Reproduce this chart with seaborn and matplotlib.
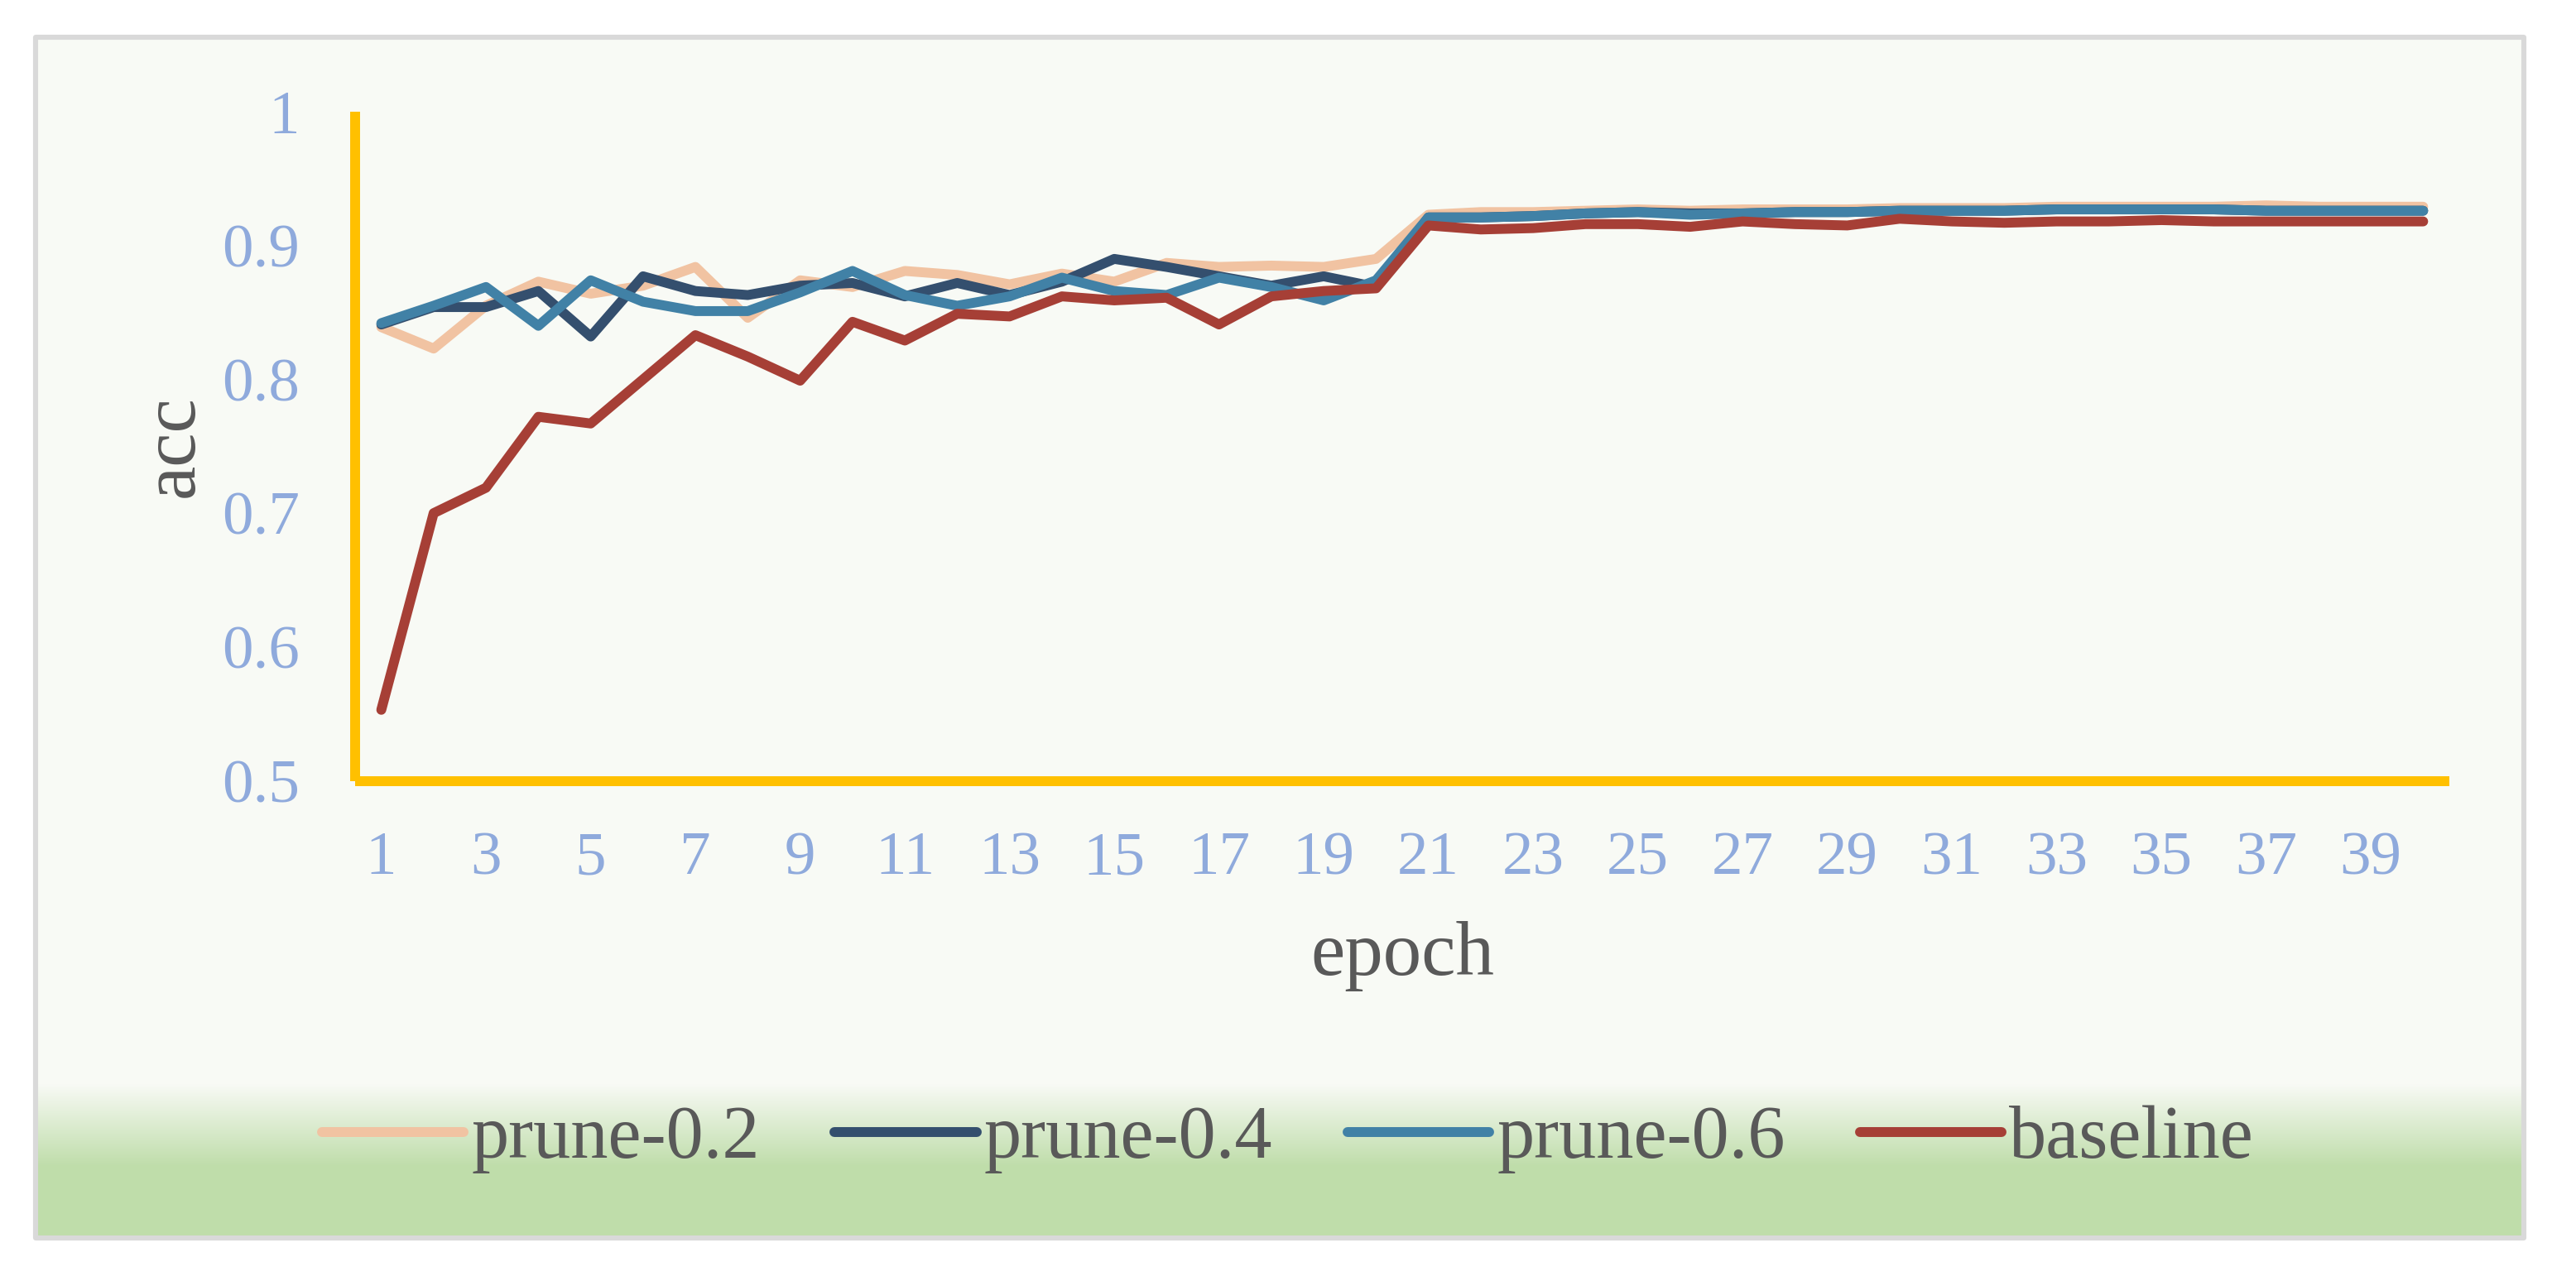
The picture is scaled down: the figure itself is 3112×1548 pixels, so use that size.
import matplotlib
matplotlib.use('Agg')
import matplotlib.pyplot as plt
import numpy as np
import pandas as pd
import seaborn as sns
from matplotlib.patches import Rectangle

# accuracy per epoch
epochs = list(range(1, 41))
prune_02 = [0.839, 0.823, 0.855, 0.873, 0.864, 0.870, 0.884, 0.846, 0.874, 0.869,
            0.881, 0.878, 0.871, 0.879, 0.873, 0.887, 0.884, 0.885, 0.884, 0.890,
            0.923, 0.925, 0.925, 0.926, 0.927, 0.926, 0.927, 0.927, 0.927, 0.928,
            0.928, 0.928, 0.929, 0.929, 0.929, 0.929, 0.930, 0.929, 0.929, 0.929]
prune_04 = [0.841, 0.854, 0.854, 0.866, 0.832, 0.877, 0.866, 0.863, 0.870, 0.872,
            0.862, 0.872, 0.863, 0.873, 0.890, 0.884, 0.877, 0.870, 0.877, 0.869,
            0.921, 0.921, 0.922, 0.924, 0.925, 0.924, 0.924, 0.925, 0.925, 0.926,
            0.926, 0.926, 0.927, 0.927, 0.927, 0.927, 0.926, 0.926, 0.926, 0.926]
prune_06 = [0.842, 0.855, 0.869, 0.840, 0.874, 0.858, 0.851, 0.851, 0.865, 0.881,
            0.863, 0.855, 0.862, 0.876, 0.866, 0.863, 0.876, 0.869, 0.859, 0.874,
            0.921, 0.921, 0.922, 0.924, 0.925, 0.923, 0.924, 0.925, 0.925, 0.926,
            0.926, 0.926, 0.927, 0.927, 0.927, 0.927, 0.926, 0.926, 0.926, 0.926]
baseline = [0.553, 0.700, 0.719, 0.772, 0.767, 0.800, 0.833, 0.817, 0.799, 0.843,
            0.829, 0.849, 0.847, 0.862, 0.859, 0.861, 0.841, 0.862, 0.866, 0.868,
            0.915, 0.912, 0.913, 0.916, 0.916, 0.914, 0.918, 0.916, 0.915, 0.920,
            0.918, 0.917, 0.918, 0.918, 0.919, 0.918, 0.918, 0.918, 0.918, 0.918]

names = ['prune-0.2', 'prune-0.4', 'prune-0.6', 'baseline']
colors = ['#F1C3A2', '#344F6E', '#4181A6', '#A63F36']
y_ticks = [0.5, 0.6, 0.7, 0.8, 0.9, 1.0]
y_tick_labels = ['0.5', '0.6', '0.7', '0.8', '0.9', '1']

df = pd.DataFrame({
    'epoch': epochs * 4,
    'acc': prune_02 + prune_04 + prune_06 + baseline,
    'model': [n for n in names for _ in epochs],
})

sns.set_theme(style='white')
plt.rcParams['font.family'] = ['Liberation Serif', 'DejaVu Serif']

W, H = 3112, 1548
fig = plt.figure(figsize=(W / 200, H / 200), dpi=200, facecolor='white')

# chart area background: pale fill, green gradient at the bottom, grey frame
bg = fig.add_axes([0, 0, 1, 1], zorder=-5)
bg.axis('off')
top_col = np.array(matplotlib.colors.to_rgb('#F8FAF5'))
green = np.array(matplotlib.colors.to_rgb('#BFDDAA'))
bg.add_patch(Rectangle((46, 48), 3000, 1310 - 48, facecolor='#F8FAF5', edgecolor='none'))
t = np.linspace(0, 1, 200)[:, None, None]
grad = top_col * (1 - t) + green * t
bg.imshow(grad, extent=[46, 3046, 1410, 1310], aspect='auto', interpolation='bilinear')
bg.add_patch(Rectangle((46, 1409), 3000, 1493 - 1409, facecolor='#BFDDAA', edgecolor='none'))
bg.add_patch(Rectangle((43, 45), 3006, 1451, facecolor='none', edgecolor='#D9D9D9',
                       linewidth=2.2, joinstyle='round'))
bg.set_xlim(0, W)
bg.set_ylim(H, 0)

ax = fig.add_axes([429 / W, 1 - 943.5 / H, 2530 / W, 808.5 / H])
ax.set_facecolor('none')

sns.lineplot(data=df, x='epoch', y='acc', hue='model', palette=colors,
             linewidth=4.3, ax=ax, legend=False, sort=False)
for line in ax.get_lines():
    line.set_solid_capstyle('round')
    line.set_solid_joinstyle('round')

ax.set_xlim(0.5, 40.5)
ax.set_ylim(0.5, 1.0)
ax.set_xticks(epochs[::2])
ax.set_yticks(y_ticks)
ax.set_yticklabels(y_tick_labels)
ax.tick_params(axis='both', length=0, labelsize=27, labelcolor='#8FAADC')
ax.tick_params(axis='x', pad=22)
ax.tick_params(axis='y', pad=24)

for side in ['top', 'right']:
    ax.spines[side].set_visible(False)
for side in ['left', 'bottom']:
    ax.spines[side].set_color('#FFC000')
    ax.spines[side].set_linewidth(4.3)
    ax.spines[side].set_capstyle('butt')

ax.set_xlabel('epoch', fontsize=33.5, color='#595959', va='baseline')
ax.xaxis.set_label_coords(0.5, -0.290)
ax.set_ylabel('acc', fontsize=33.5, color='#595959', va='center', ha='center')
ax.yaxis.set_label_coords(-0.0866, 0.5)

fig.legend(ax.get_lines(), names, loc='center', bbox_to_anchor=(0.5, 1 - 1377 / H),
           ncol=4, frameon=False, fontsize=32.5, handlelength=1.9,
           handletextpad=0.1, columnspacing=1.0, labelcolor='#595959')

fig.savefig('out.png', dpi=200, facecolor='white')
